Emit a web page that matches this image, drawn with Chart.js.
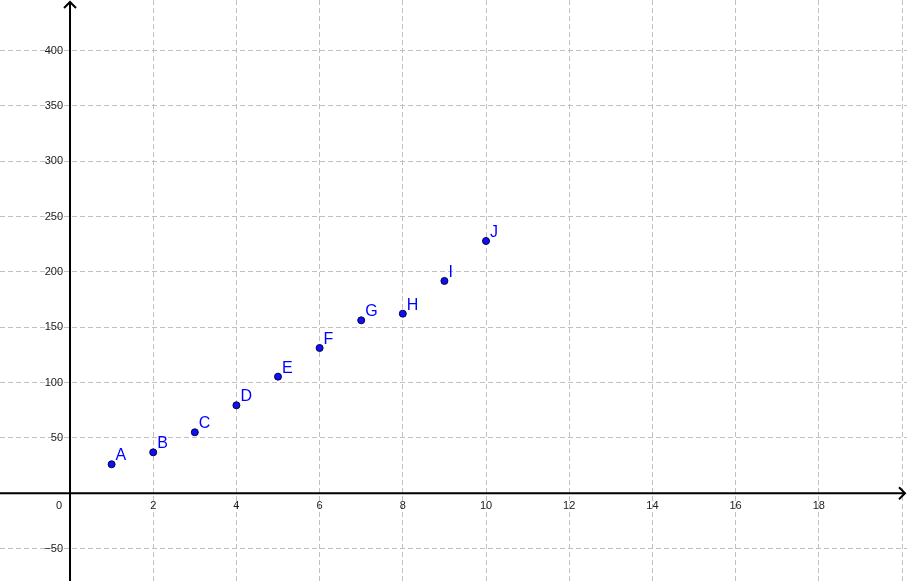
<!DOCTYPE html>
<html>
<head>
<meta charset="utf-8">
<script src="https://cdn.jsdelivr.net/npm/chart.js@4"></script>
<style>
  html, body { margin: 0; padding: 0; background: #fff; overflow: hidden; }
  #c { display: block; }
</style>
</head>
<body>
<canvas id="c" width="907" height="581"></canvas>
<script>
// point names and coordinates
const names = ["A", "B", "C", "D", "E", "F", "G", "H", "I", "J"];
const xs = [1, 2, 3, 4, 5, 6, 7, 8, 9, 10];
const ys = [26.2, 37, 55.1, 79.5, 105.4, 131.3, 156.3, 162.3, 191.9, 228];

// grid lines and labelled ticks
const xGrid = [2, 4, 6, 8, 10, 12, 14, 16, 18, 20];
const xLabels = [2, 4, 6, 8, 10, 12, 14, 16, 18];
const yGrid = [-50, 50, 100, 150, 200, 250, 300, 350, 400];
const yLabels = [-50, 50, 100, 150, 200, 250, 300, 350, 400];

const points = xs.map((x, i) => ({ x: x, y: ys[i] }));

// axes with arrows + GeoGebra style tick labels next to the axes
const axesPlugin = {
    id: "axes",
    beforeDatasetsDraw(chart) {
        const ctx = chart.ctx;
        const sx = chart.scales.x, sy = chart.scales.y;
        const x0 = sx.getPixelForValue(0), y0 = sy.getPixelForValue(0);
        const w = chart.width, h = chart.height;
        ctx.save();
        ctx.strokeStyle = "#000";
        ctx.lineWidth = 2;
        ctx.beginPath();
        ctx.moveTo(0, y0); ctx.lineTo(w - 2, y0);
        ctx.moveTo(x0, h); ctx.lineTo(x0, 2);
        ctx.stroke();
        // arrow heads
        ctx.beginPath();
        ctx.moveTo(w - 8, y0 - 6); ctx.lineTo(w - 2, y0); ctx.lineTo(w - 8, y0 + 6);
        ctx.moveTo(x0 - 6, 8); ctx.lineTo(x0, 2); ctx.lineTo(x0 + 6, 8);
        ctx.stroke();

        ctx.fillStyle = "#222";
        ctx.font = "11px 'Liberation Sans', Arial, sans-serif";
        ctx.textAlign = "center";
        ctx.textBaseline = "middle";
        xLabels.forEach(v => ctx.fillText(String(v), sx.getPixelForValue(v), y0 + 13));
        ctx.fillText("0", x0 - 11, y0 + 13);
        ctx.textAlign = "right";
        yLabels.forEach(v => {
            const t = v < 0 ? "\u2212" + Math.abs(v) : String(v);
            ctx.fillText(t, x0 - 7, sy.getPixelForValue(v));
        });
        ctx.restore();
    },
    afterDatasetsDraw(chart) {
        const ctx = chart.ctx;
        const meta = chart.getDatasetMeta(0);
        ctx.save();
        ctx.fillStyle = "#0000ff";
        ctx.font = "16px 'Liberation Sans', Arial, sans-serif";
        ctx.textAlign = "left";
        ctx.textBaseline = "alphabetic";
        meta.data.forEach((p, i) => ctx.fillText(names[i], p.x + 4, p.y - 4));
        ctx.restore();
    }
};

const gridOpts = {
    color: "#c0c0c0",
    lineWidth: 1,
    drawTicks: false
};

new Chart(document.getElementById("c"), {
    type: "scatter",
    data: {
        datasets: [{
            data: points,
            pointRadius: 3.5,
            pointBackgroundColor: "#1010f0",
            pointBorderColor: "#000050",
            pointBorderWidth: 1
        }]
    },
    options: {
        responsive: false,
        animation: false,
        events: [],
        layout: { padding: 0, autoPadding: false },
        plugins: { legend: { display: false }, tooltip: { enabled: false } },
        scales: {
            x: {
                type: "linear",
                min: -1.683,
                max: 20.12,
                afterBuildTicks: s => { s.ticks = xGrid.map(v => ({ value: v })); },
                ticks: { display: false },
                grid: gridOpts,
                border: { display: false, dash: [5, 3] }
            },
            y: {
                type: "linear",
                min: -79.3,
                max: 445.8,
                afterBuildTicks: s => { s.ticks = yGrid.map(v => ({ value: v })); },
                ticks: { display: false },
                grid: gridOpts,
                border: { display: false, dash: [5, 3] }
            }
        }
    },
    plugins: [axesPlugin]
});
</script>
</body>
</html>
